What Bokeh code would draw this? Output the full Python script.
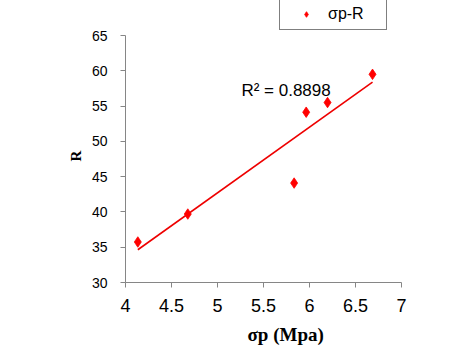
import numpy as np
from bokeh.plotting import figure
from bokeh.models import (FixedTicker, Label, Legend, LegendItem, Range1d, Title)
from bokeh.embed import file_html
from bokeh.resources import INLINE

# ---- data ----
sigma_p = [4.134, 4.677, 5.833, 5.964, 6.196, 6.685]
R_vals = [35.74, 39.70, 44.09, 54.13, 55.50, 59.50]
x_ticks = [4, 4.5, 5, 5.5, 6, 6.5, 7]
x_tick_labels = ["4", "4.5", "5", "5.5", "6", "6.5", "7"]
y_ticks = [30, 35, 40, 45, 50, 55, 60, 65]
y_tick_labels = ["30", "35", "40", "45", "50", "55", "60", "65"]
series_name = "σp-R"
r2_text = "R² = 0.8898"
x_title = "σp (Mpa)"
y_title = "R"

# linear trend line from the data
slope, intercept = np.polyfit(sigma_p, R_vals, 1)
fit_x = [min(sigma_p), max(sigma_p)]
fit_y = [slope * v + intercept for v in fit_x]

# frame reaches the top of the page (room for the legend); axis stops at 65
p = figure(width=474, height=354, output_backend="svg", toolbar_location=None,
           x_range=Range1d(4, 7), y_range=Range1d(30, 69.96),
           min_border_left=125, min_border_right=73,
           min_border_top=0, min_border_bottom=72)
p.outline_line_color = None
p.xgrid.visible = False
p.ygrid.visible = False
p.background_fill_color = "white"
p.border_fill_color = "white"

for ax in (p.xaxis[0], p.yaxis[0]):
    ax.axis_line_color = "#868686"
    ax.major_tick_line_color = "#868686"
    ax.minor_tick_line_color = None
    ax.major_tick_in = 0
    ax.major_tick_out = 5
    ax.major_label_text_font = "Liberation Sans"
    ax.major_label_text_color = "#000000"

p.xaxis.ticker = FixedTicker(ticks=x_ticks)
p.xaxis.major_label_overrides = {t: l for t, l in zip(x_ticks, x_tick_labels)}
p.xaxis.major_label_text_font_size = "18px"
p.xaxis.major_label_standoff = 11

p.yaxis.ticker = FixedTicker(ticks=y_ticks)
p.yaxis.bounds = (30, 65)
p.yaxis.major_label_overrides = {t: l for t, l in zip(y_ticks, y_tick_labels)}
p.yaxis.major_label_text_font_size = "14px"
p.yaxis.major_label_standoff = 13

line = p.line(fit_x, fit_y, line_color="#ee0000", line_width=1.6)
pts = p.scatter(sigma_p, R_vals, marker="diamond", size=10.5,
                fill_color="#ff0000", line_color="#ff0000", line_width=0.8)

# R^2 annotation
p.add_layout(Label(x=5.26, y=57.2, text=r2_text, text_font="Liberation Sans",
                   text_font_size="17px", text_color="#000000",
                   text_baseline="alphabetic"))

# y-axis title
p.add_layout(Title(text=y_title, align="left", offset=121, standoff=10,
                   text_font="Liberation Serif", text_font_style="bold",
                   text_font_size="15px", text_color="#000000"), "left")

# x-axis title (shifted right as in the reference)
p.add_layout(Title(text=x_title, align="left", offset=122, standoff=14,
                   text_font="Liberation Serif", text_font_style="bold",
                   text_font_size="19px", text_color="#000000"), "below")

legend = Legend(items=[LegendItem(label=series_name, renderers=[pts])],
                location=(154, 252), border_line_color="#000000",
                border_line_width=1.5, background_fill_color="white",
                padding=6, margin=0, spacing=0,
                glyph_width=40, glyph_height=14, label_height=14,
                label_width=52, label_standoff=2,
                label_text_font="Liberation Sans",
                label_text_font_size="16px", label_text_color="#000000")
p.add_layout(legend)

open("out.html", "w").write(file_html(p, INLINE))
